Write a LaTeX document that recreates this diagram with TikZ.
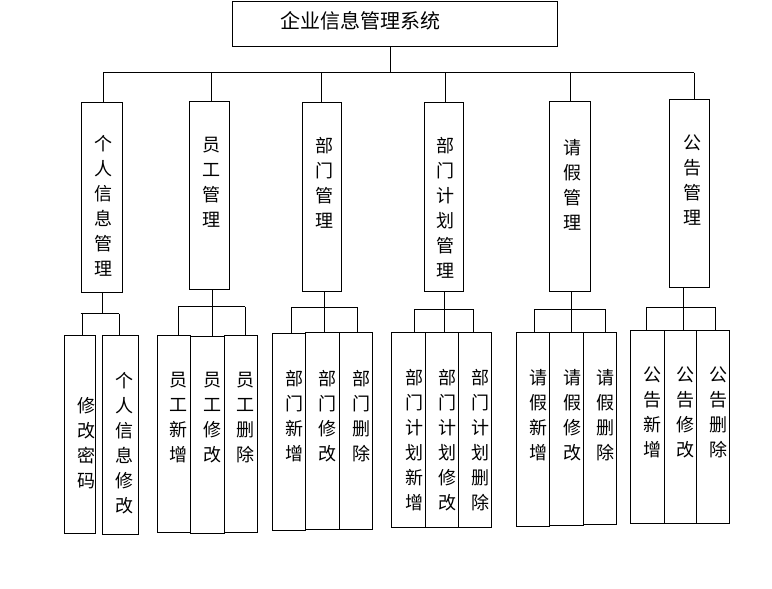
\documentclass[tikz,border=0pt]{standalone}
\usepackage{fontspec}
\newfontfamily\cjk{Noto Sans CJK SC}
\tikzset{
  box/.style={draw, line width=1pt, inner sep=0pt, outer sep=0pt},
  vt/.style={font=\cjk\fontsize{18}{25}\selectfont, align=center, inner sep=0pt, anchor=north},
  ln/.style={line width=1pt}
}
\newcommand{\mybox}[8]{%
  \node[box, minimum width={#4-#2}, minimum height={#5-#3}] (#1) at ({(#2+#4)/2},{(#3+#5)/2}) {};
  \node[vt] (#1-t) at (#6,#7-8) {#8};}
\begin{document}
\begin{tikzpicture}[x=1pt,y=-1pt]
\useasboundingbox (0,0) rectangle (772,589);
% top
\node[box, minimum width=325, minimum height=44.7] (top) at (395,23.65) {};
\node[font=\cjk\fontsize{20}{24}\selectfont, inner sep=0pt] (title) at (360,20.5) {企业信息管理系统};
% level 1
\mybox{L1}{81.3}{102.3}{122.3}{292}{103}{143}{个\\人\\信\\息\\管\\理}
\mybox{L2}{189.3}{101.3}{229.3}{289.3}{211.7}{145}{员\\工\\管\\理}
\mybox{L3}{302.3}{102.3}{341.3}{291.3}{324}{145}{部\\门\\管\\理}
\mybox{L4}{424.3}{102.3}{463.3}{291.3}{445.7}{145}{部\\门\\计\\划\\管\\理}
\mybox{L5}{549.3}{101.3}{590.3}{291.3}{572}{147}{请\\假\\管\\理}
\mybox{L6}{669.3}{99.3}{709.3}{287.3}{692}{143}{公\\告\\管\\理}
% level 2
\mybox{A1}{64.3}{335.3}{95.3}{533.3}{86}{405}{修\\改\\密\\码}
\mybox{A2}{102.3}{335.3}{138.3}{534.3}{124}{380}{个\\人\\信\\息\\修\\改}
\mybox{B1}{157.3}{335.3}{190.3}{532.3}{178.3}{380}{员\\工\\新\\增}
\mybox{B2}{190.3}{336.7}{224.3}{533.3}{212.3}{380}{员\\工\\修\\改}
\mybox{B3}{224.3}{335.3}{257.3}{532.3}{245.7}{380}{员\\工\\删\\除}
\mybox{C1}{272.3}{333.3}{305.7}{530}{294.3}{378.3}{部\\门\\新\\增}
\mybox{C2}{305.7}{332.3}{339.3}{529}{327.7}{378.3}{部\\门\\修\\改}
\mybox{C3}{339.3}{332.3}{372.3}{529}{361}{378.3}{部\\门\\删\\除}
\mybox{D1}{391.7}{332.3}{425.7}{527.3}{414}{376.7}{部\\门\\计\\划\\新\\增}
\mybox{D2}{425.7}{332.3}{458.7}{527.3}{447.3}{376.7}{部\\门\\计\\划\\修\\改}
\mybox{D3}{458.7}{332.3}{491.7}{527.3}{480}{376.7}{部\\门\\计\\划\\删\\除}
\mybox{E1}{516.7}{332.3}{549.7}{526}{538.3}{376.7}{请\\假\\新\\增}
\mybox{E2}{549.7}{332.3}{583.3}{525}{572.3}{376.7}{请\\假\\修\\改}
\mybox{E3}{583.3}{332.3}{616.3}{524}{605.3}{376.7}{请\\假\\删\\除}
\mybox{F1}{630.3}{330.3}{664.3}{523.3}{652.7}{375}{公\\告\\新\\增}
\mybox{F2}{664.3}{330.3}{696.3}{523.3}{685.7}{375}{公\\告\\修\\改}
\mybox{F3}{696.3}{330.3}{729.3}{523.3}{718.3}{375}{公\\告\\删\\除}
% top bus
\coordinate (bus0) at (390,72.5);
\coordinate (t1) at (103.4,72.5);
\coordinate (t2) at (211.7,72.5);
\coordinate (t3) at (321.7,72.5);
\coordinate (t4) at (445.7,72.5);
\coordinate (t5) at (570.7,72.5);
\coordinate (t6) at (694.3,72.5);
\draw[ln] (top.south -| bus0) -- (bus0);
\draw[ln] (t1) -- (t6);
\foreach \i in {1,...,6} \draw[ln] (t\i) -- (t\i |- L\i.north);
% lower buses
\coordinate (g1) at (102.3,313.5);
\coordinate (g1l) at (80.7,313.5);
\coordinate (g1a) at (82.3,313.5);
\coordinate (g1b) at (119.3,313.5);
\draw[ln] (g1 |- L1.south) -- (g1);
\draw[ln] (g1l) -- (g1b);
\draw[ln] (g1a) -- (g1a |- A1.north);
\draw[ln] (g1b) -- (g1b |- A2.north);
%
\coordinate (g2) at (212.3,306.7);
\coordinate (g2a) at (178.3,306.7);
\coordinate (g2b) at (245,306.7);
\draw[ln] (g2 |- L2.south) -- (g2);
\draw[ln] (g2a) -- (g2b);
\draw[ln] (g2a) -- (g2a |- B1.north);
\draw[ln] (g2) -- (g2 |- B2.north);
\draw[ln] (g2b) -- (g2b |- B3.north);
%
\coordinate (g3) at (324.3,307.3);
\coordinate (g3a) at (291.7,307.3);
\coordinate (g3b) at (357.3,307.3);
\draw[ln] (g3 |- L3.south) -- (g3);
\draw[ln] (g3a) -- (g3b);
\draw[ln] (g3a) -- (g3a |- C1.north);
\draw[ln] (g3) -- (g3 |- C2.north);
\draw[ln] (g3b) -- (g3b |- C3.north);
%
\coordinate (g4) at (444.3,309.3);
\coordinate (g4a) at (414.3,309.3);
\coordinate (g4b) at (473.3,309.3);
\draw[ln] (g4 |- L4.south) -- (g4);
\draw[ln] (g4a) -- (g4b);
\draw[ln] (g4a) -- (g4a |- D1.north);
\draw[ln] (g4) -- (g4 |- D2.north);
\draw[ln] (g4b) -- (g4b |- D3.north);
%
\coordinate (g5) at (571.3,309.3);
\coordinate (g5a) at (534.3,309.3);
\coordinate (g5b) at (605.3,309.3);
\draw[ln] (g5 |- L5.south) -- (g5);
\draw[ln] (g5a) -- (g5b);
\draw[ln] (g5a) -- (g5a |- E1.north);
\draw[ln] (g5) -- (g5 |- E2.north);
\draw[ln] (g5b) -- (g5b |- E3.north);
%
\coordinate (g6) at (683,307.3);
\coordinate (g6a) at (646,307.3);
\coordinate (g6b) at (715.7,307.3);
\draw[ln] (g6 |- L6.south) -- (g6);
\draw[ln] (g6a) -- (g6b);
\draw[ln] (g6a) -- (g6a |- F1.north);
\draw[ln] (g6) -- (g6 |- F2.north);
\draw[ln] (g6b) -- (g6b |- F3.north);
\end{tikzpicture}
\end{document}
